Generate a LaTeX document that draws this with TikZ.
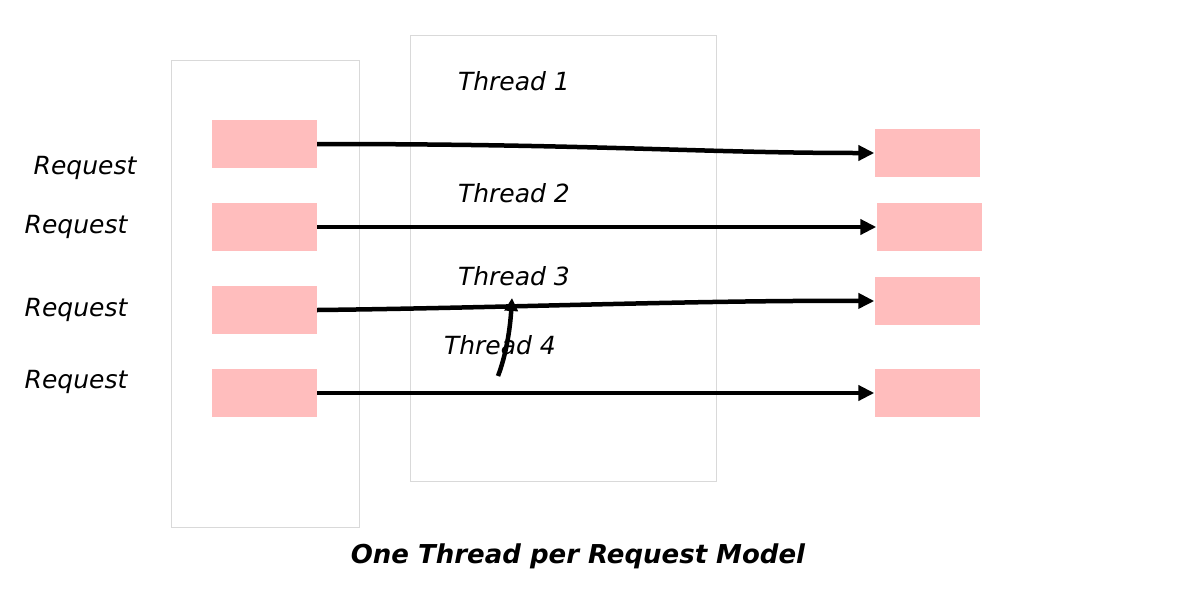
\documentclass[tikz,border=0pt]{standalone}
\usepackage{fontspec}
\setmainfont{DejaVu Sans}
\usetikzlibrary{arrows.meta}
\begin{document}
\begin{tikzpicture}[x=1pt,y=-1pt,
  frame/.style={draw=black!15,line width=1pt},
  pinkbox/.style={draw=none,minimum width=105pt,minimum height=48pt,inner sep=0},
  lbl/.style={font=\itshape\fontsize{25}{30}\selectfont},
  conn/.style={line width=4.5pt,-{Triangle[length=16pt,width=15pt]}}]
\useasboundingbox (0,0) rectangle (1200,590);
\fill[white] (0,0) rectangle (1200,590);
\draw[frame] (171,60) rectangle (359,527);
\draw[frame] (410,35) rectangle (716,481);
\definecolor{pk}{RGB}{255,189,189}
\foreach \n/\y in {a/144,b/227,c/310,d/393}
  \node[pinkbox,fill=pk] (l\n) at (264.5,\y) {};
\node[pinkbox,fill=pk] (ra) at (927,153) {};
\node[pinkbox,fill=pk] (rb) at (929,227) {};
\node[pinkbox,fill=pk] (rc) at (927,301) {};
\node[pinkbox,fill=pk] (rd) at (927,393) {};
\draw[conn] (la.east) .. controls (600,144) and (700,153) .. (ra.west);
\draw[conn] (lb.east) -- (rb.west);
\draw[conn] (lc.east) .. controls (500,308) and (700,300) .. (rc.west);
\draw[conn] (ld.east) -- (rd.west);
\coordinate (s) at (498,376);
\coordinate (t) at (512,298);
\draw[line width=4.5pt,-{Triangle[length=13pt,width=13pt]}] (s) .. controls (506,355) and (510,330) .. (t);
\node[lbl] (q1) at (85,168) {Request};
\node[lbl] (q2) at (76,227) {Request};
\node[lbl] (q3) at (76,310) {Request};
\node[lbl] (q4) at (76,382) {Request};
\node[lbl] (t1) at (514,81) {Thread 1};
\node[lbl] (t2) at (514,193) {Thread 2};
\node[lbl] (t3) at (514,276) {Thread 3};
\node[lbl] (t4) at (500,345) {Thread 4};
\node[lbl,font=\itshape\bfseries\fontsize{26}{30}\selectfont] (cap) at (578,556) {One Thread per Request Model};
\end{tikzpicture}
\end{document}
